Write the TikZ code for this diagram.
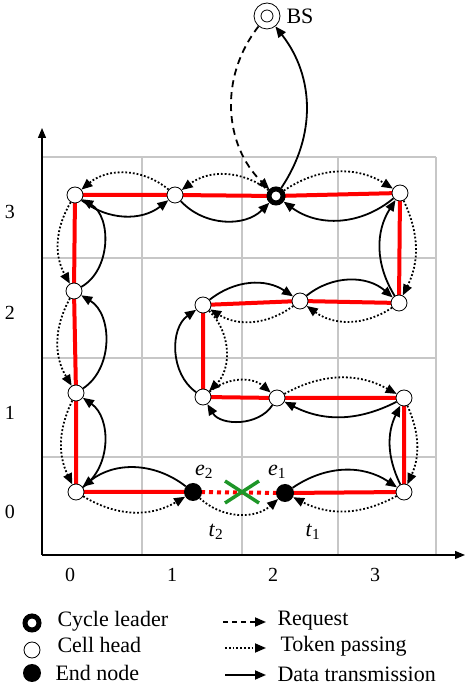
\documentclass[tikz,border=0pt]{standalone}
\usepackage{fontspec}
\setmainfont{Liberation Serif}
\usetikzlibrary{arrows.meta}
\usetikzlibrary{backgrounds}
\definecolor{crossgreen}{RGB}{30,150,40}
\tikzstyle{head}=[circle, draw, fill=white, minimum size=16pt, inner sep=0pt, line width=0.8pt]
\tikzstyle{leader}=[circle, draw, fill=white, minimum size=14pt, inner sep=0pt, line width=5pt]
\tikzstyle{endnode}=[circle, fill=black, minimum size=18pt, inner sep=0pt]
\tikzstyle{station}=[circle, draw, minimum size=26pt, inner sep=0pt, line width=0.8pt]
\tikzstyle{station core}=[circle, draw, minimum size=12pt, inner sep=0pt, line width=0.8pt]
\tikzstyle{data}=[-{Triangle[length=11pt,width=9pt]}, line width=1.8pt]
\tikzstyle{token}=[data, dash pattern=on 1.8pt off 2pt]
\tikzstyle{request}=[data, dash pattern=on 7pt off 5pt]
\tikzstyle{link}=[red, line width=4pt]
\tikzstyle{broken link}=[link, dash pattern=on 4pt off 4pt]
\tikzstyle{grid line}=[black!22, line width=1.2pt]
\tikzstyle{axis}=[-{Triangle[length=10pt,width=8pt]}, line width=1.2pt]

\begin{document}
\begin{tikzpicture}[x=1pt, y=1pt, every node/.style={font=\fontsize{22}{26}\selectfont}]
  \useasboundingbox (0,0) rectangle (474,688);
  % base station
  \node[station] (BS) at (267,672) {};
  \node[station core] at (BS) {};
  \node[anchor=west] (BS label) at (283,672) {BS};
  % top row
  \node[head] (A) at (75,493) {};
  \node[head] (B) at (175,493) {};
  \node[leader] (L) at (276,492) {};
  \node[head] (C) at (400,495) {};
  % left column
  \node[head] (D) at (74,397) {};
  \node[head] (E) at (76,295) {};
  \node[head] (F) at (76,196) {};
  % inner loop
  \node[head] (I) at (203,383) {};
  \node[head] (J) at (300,387) {};
  \node[head] (K) at (399,385) {};
  \node[head] (M) at (203,291) {};
  \node[head] (N) at (277,290) {};
  \node[head] (H) at (404,290) {};
  % bottom row
  \node[endnode] (e2) at (193,196) {};
  \node[endnode] (e1) at (285,195) {};
  \node[head] (G) at (404,196) {};
  \node (e2 label) at (204,216) {\textit{e}\textsubscript{2}};
  \node (e1 label) at (277,216) {\textit{e}\textsubscript{1}};
  \node (t2 label) at (216,156) {\textit{t}\textsubscript{2}};
  \node (t1 label) at (313,156) {\textit{t}\textsubscript{1}};

  \begin{pgfonlayer}{background}
    \foreach \x in {142,242,338,436}
      \draw[grid line] (\x,133) -- (\x,531);
    \foreach \y in {231,330,430,531}
      \draw[grid line] (42,\y) -- (436,\y);
    \draw[link] (A.center) -- (B.center) -- (L.center) -- (C.center) -- (K.center)
      -- (J.center) -- (I.center) -- (M.center) -- (N.center) -- (H.center)
      -- (G.center) -- (e1.center);
    \draw[link] (e2.center) -- (F.center) -- (E.center) -- (D.center) -- (A.center);
    \draw[broken link] (e2.center) -- (e1.center);
  \end{pgfonlayer}
  \draw[crossgreen, line width=3.5pt] (225,207) -- (259,185) (225,185) -- (259,207);

  % axes
  \coordinate (O) at (42,133);
  \draw[axis] (O) -- (42,560);
  \draw[axis] (O) -- (465,133);
  \foreach \n/\y in {0/176,1/275,2/375,3/476}
    \node (y\n) at (10,\y) {\fontsize{20}{24}\selectfont\n};
  \foreach \n/\x in {0/70,1/172,2/273,3/375}
    \node (x\n) at (\x,113) {\fontsize{20}{24}\selectfont\n};

  % request and report
  \draw[request] (BS) to[bend right=42] (L);
  \draw[data] (L) to[bend right=36] (BS);
  % top row
  \draw[token] (B) to[bend right=40] (A);
  \draw[data] (A) to[bend right=38] (B);
  \draw[token] (L) to[bend right=37] (B);
  \draw[data] (B) to[bend right=46] (L);
  \draw[token] (L) to[bend left=33] (C);
  \draw[data] (C) to[bend left=38] (L);
  % right side and inner loop
  \draw[data] (K) to[bend left=32] (C);
  \draw[token] (C) to[bend left=26] (K);
  \draw[data] (J) to[bend left=40] (K);
  \draw[token] (K) to[bend left=35] (J);
  \draw[data] (I) to[bend left=36] (J);
  \draw[token] (J) to[bend left=34] (I);
  \draw[data] (M) to[bend left=55] (I);
  \draw[token] (I) to[bend left=46] (M);
  \draw[token] (M) to[bend left=40] (N);
  \draw[data] (N) to[bend left=58] (M);
  \draw[token] (N) to[bend left=29] (H);
  \draw[data] (H) to[bend left=27] (N);
  \draw[data] (G) to[bend left=26] (H);
  \draw[token] (H) to[bend left=24] (G);
  \draw[data] (e1) to[bend left=34] (G);
  \draw[token] (G) to[bend left=28] (e1);
  % broken link
  \draw[token] (e2) to[bend right=42] (e1);
  % bottom left and left column
  \draw[data] (e2) to[bend right=38] (F);
  \draw[token] (F) to[bend right=31] (e2);
  \draw[token] (E) to[bend right=26] (F);
  \draw[data] (F) to[bend right=55] (E);
  \draw[token] (D) to[bend right=30] (E);
  \draw[data] (E) to[bend right=58] (D);
  \draw[token] (A) to[bend right=30] (D);
  \draw[data] (D) to[bend right=60] (A);

  % legend
  \node[leader] (key leader) at (32,65) {};
  \node[head] (key head) at (32,38) {};
  \node[endnode] (key end) at (32,15) {};
  \node[anchor=west] (key leader text) at (54,67) {Cycle leader};
  \node[anchor=west] (key head text) at (54,43) {Cell head};
  \node[anchor=west] (key end text) at (52,15) {End node};
  \coordinate (req a) at (223,66);
  \coordinate (req b) at (266,66);
  \coordinate (tok a) at (225,40);
  \coordinate (tok b) at (266,40);
  \coordinate (dat a) at (225,13);
  \coordinate (dat b) at (266,13);
  \draw[request, dash pattern=on 5pt off 4pt] (req a) -- (req b);
  \draw[token] (tok a) -- (tok b);
  \draw[data] (dat a) -- (dat b);
  \node[anchor=west] (req text) at (274,67) {Request};
  \node[anchor=west] (tok text) at (277,42) {Token passing};
  \node[anchor=west] (dat text) at (274,14) {Data transmission};
\end{tikzpicture}
\end{document}
